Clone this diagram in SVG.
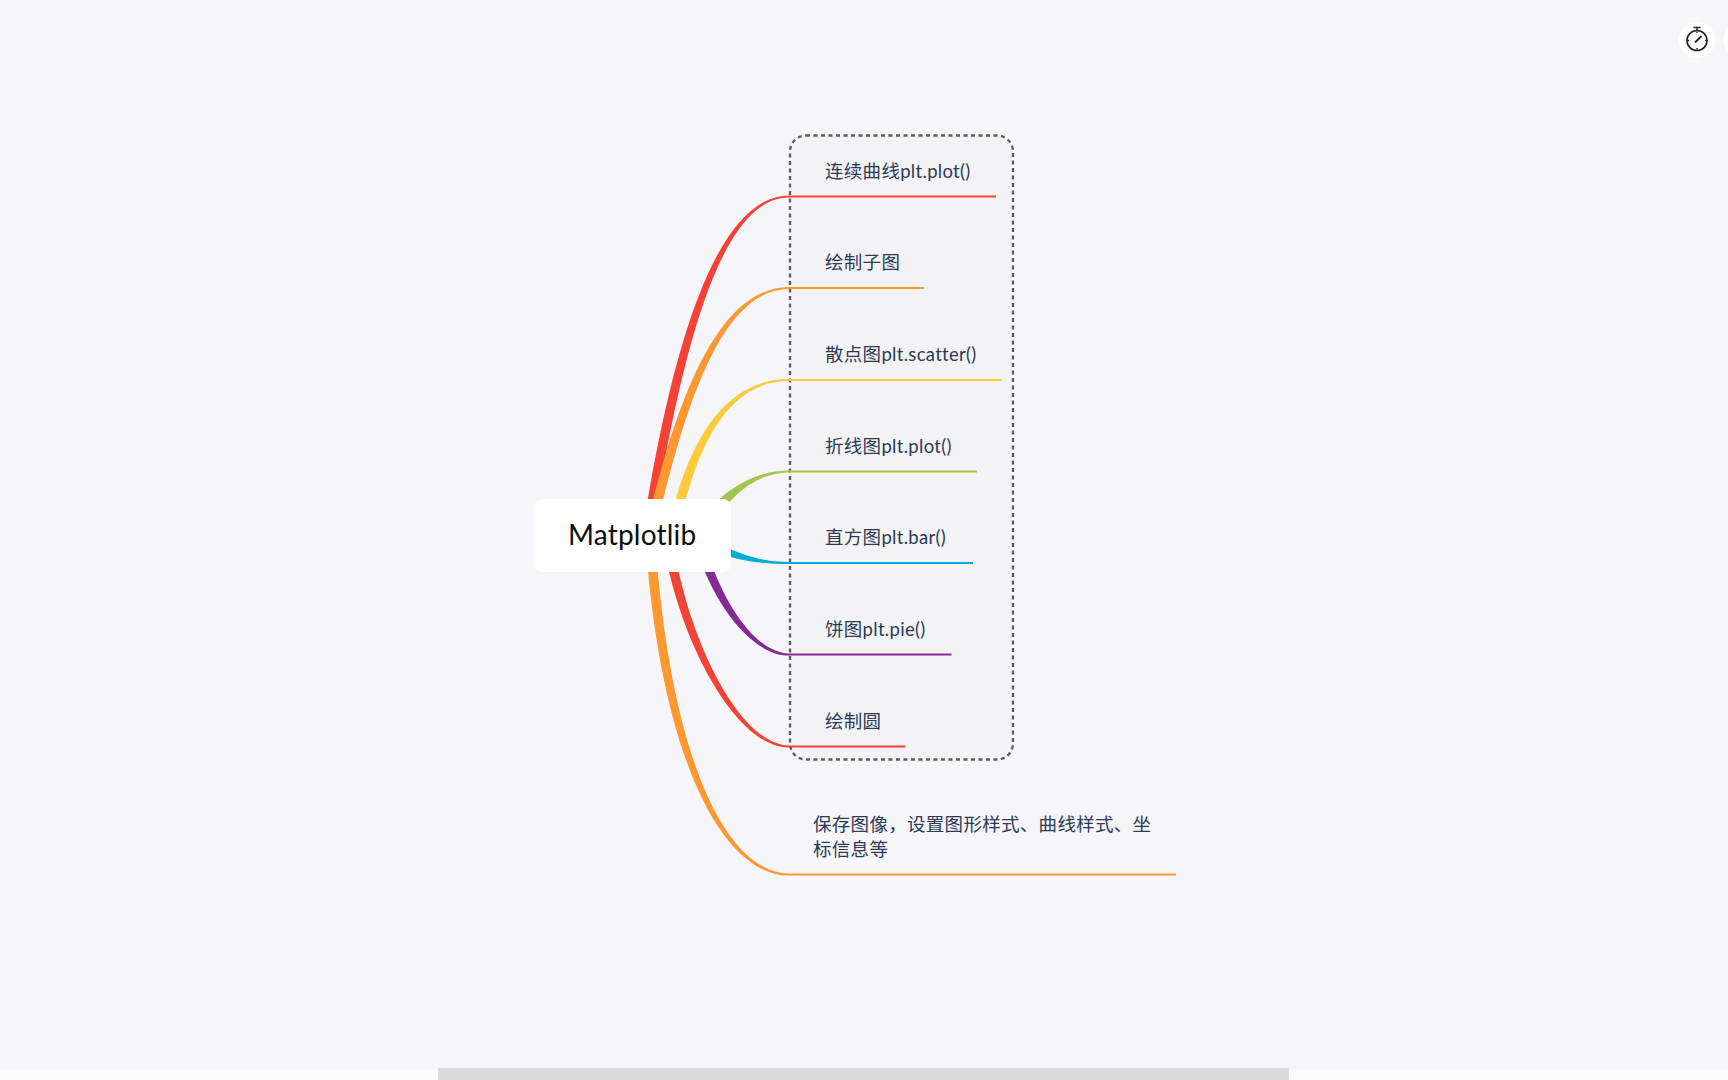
<svg xmlns="http://www.w3.org/2000/svg" width="1728" height="1080" viewBox="0 0 1728 1080">
<style>
text{font-family:"Lato","Noto Sans CJK SC",sans-serif;font-size:18.5px;letter-spacing:.3px;fill:#2c3a55}
.n{font-size:28px;letter-spacing:.2px;fill:#0d0d0d}
.h{fill:none;stroke-width:2}
.red{fill:#f44336}.ora{fill:#fb982f}.yel{fill:#fdca3a}.gre{fill:#a2c64a}.blu{fill:#02acd6}.pur{fill:#832a96}
.hred{stroke:#f44336}.hora{stroke:#fb982f}.hyel{stroke:#fdca3a}.hgre{stroke:#a2c64a}.hblu{stroke:#02acd6}.hpur{stroke:#832a96}
</style>
<rect width="1728" height="1080" fill="#f5f5fa"/>
<g id="connectors">
<path class="red" d="M642 535C675.500 319 723 196 789 195.500L789 197.500C727 197.500 685.500 321 652 535Z"/>
<path class="ora" d="M645 535C678.500 384 723 287.500 789 287L789 289C727 289 688.500 386 655 535Z"/>
<path class="yel" d="M667 535C687 439 725 379.500 789 379L789 381C729 381 697 441 677 535Z"/>
<path class="gre" d="M704 515C725 489 755 470.500 789 470.500L789 472.500C759 472.500 733 492 712 525Z"/>
<path class="blu" d="M715 541C735 553 760 562 789 562L789 564C760 564 733 560 715 551Z"/>
<path class="pur" d="M695 545C715.500 611 756 656.500 789 655.500L789 653.500C758 653 724.500 609 705 545Z"/>
<path class="red" d="M662 535C677.500 641 737 748.500 789 747.500L789 745.500C740 745 686.500 639 672 535Z"/>
<path class="ora" d="M645 535C660.500 760.500 723 875.500 789 875.500L789 873.500C727 873.500 669.500 759.500 655 535Z"/>
</g>
<g id="group-box"><rect x="790" y="135.500" width="223" height="624" rx="16" fill="#f3f3f6" stroke="#5a5a5a" stroke-width="2.300" stroke-dasharray="4 3.500"/></g>
<g id="branch-lines">
<path class="h hred" d="M789 196.500H996"/>
<path class="h hora" d="M789 288H924"/>
<path class="h hyel" d="M789 380H1002"/>
<path class="h hgre" d="M789 471.500H977"/>
<path class="h hblu" d="M789 563H973"/>
<path class="h hpur" d="M789 654.500H951.500"/>
<path class="h hred" d="M789 746.500H905.500"/>
<path class="h hora" d="M789 874.500H1176"/>
</g>
<g id="root"><rect x="534" y="499" width="197" height="73" rx="8" fill="#fff"/><text class="n" x="568" y="545">Matplotlib</text></g>
<g id="n1"><text x="825" y="177.500">连续曲线plt.plot()</text></g>
<g id="n2"><text x="825" y="269">绘制子图</text></g>
<g id="n3"><text x="825" y="361">散点图plt.scatter()</text></g>
<g id="n4"><text x="825" y="452.500">折线图plt.plot()</text></g>
<g id="n5"><text x="825" y="544">直方图plt.bar()</text></g>
<g id="n6"><text x="825" y="635.500">饼图plt.pie()</text></g>
<g id="n7"><text x="825" y="727.500">绘制圆</text></g>
<g id="n8"><text x="813" y="831">保存图像，设置图形样式、曲线样式、坐</text><text x="813" y="855.500">标信息等</text></g>
<g id="timer">
<circle cx="1697" cy="40" r="18.500" fill="#fff"/><circle cx="1742" cy="40" r="18.500" fill="#fff"/>
<circle cx="1697" cy="40.500" r="10" fill="none" stroke="#222" stroke-width="1.600"/>
<path d="M1697 30V27.500M1693.500 27.500H1700.500M1697 31.500V33M1697 48V49.500M1687.500 40.500H1689M1705 40.500H1706.500" fill="none" stroke="#222" stroke-width="1.400"/>
<path d="M1695 42.500L1701.500 36" fill="none" stroke="#222" stroke-width="1.800"/>
</g>
<g id="scrollbar"><rect y="1069" width="1728" height="11" fill="#fbfbfb"/><rect x="438" y="1068" width="851" height="12" fill="#d9d9d9"/></g>
</svg>
